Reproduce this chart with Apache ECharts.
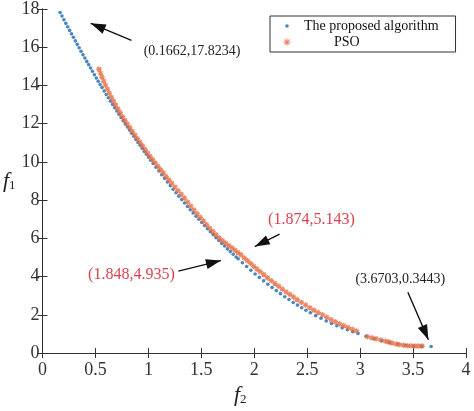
<!DOCTYPE html>
<html>
<head>
<meta charset="utf-8">
<script src="https://cdn.jsdelivr.net/npm/echarts@6/dist/echarts.min.js"></script>
<style>
  html, body { margin: 0; padding: 0; background: #fff; }
  #chart { width: 474px; height: 411px; }
</style>
</head>
<body>
<div id="chart"></div>
<script>
// Pareto fronts: [f2, f1]
const proposed = [
  [0.166,17.82],[0.184,17.63],[0.202,17.44],[0.220,17.25],[0.238,17.07],[0.256,16.88],[0.274,16.70],[0.292,16.52],
  [0.310,16.33],[0.328,16.15],[0.346,15.97],[0.364,15.79],[0.382,15.61],[0.400,15.44],[0.418,15.26],[0.436,15.09],
  [0.454,14.91],[0.472,14.74],[0.490,14.56],[0.508,14.39],[0.526,14.22],[0.544,14.05],
  [0.562,13.89],[0.582,13.71],[0.602,13.53],[0.622,13.36],[0.642,13.18],[0.662,13.01],[0.682,12.84],[0.702,12.67],
  [0.722,12.50],[0.742,12.33],[0.762,12.16],[0.782,11.99],[0.802,11.83],[0.822,11.67],[0.842,11.50],[0.862,11.34],
  [0.882,11.18],[0.902,11.02],[0.922,10.87],[0.942,10.71],[0.962,10.55],[0.982,10.40],[1.002,10.25],[1.022,10.09],
  [1.045,9.92],[1.072,9.72],[1.099,9.53],[1.126,9.33],[1.153,9.14],[1.180,8.95],[1.207,8.76],[1.234,8.57],
  [1.261,8.39],[1.288,8.21],[1.315,8.03],[1.342,7.85],[1.369,7.67],[1.396,7.50],[1.423,7.33],[1.450,7.16],
  [1.477,7.00],[1.504,6.83],[1.531,6.67],[1.558,6.51],[1.585,6.35],[1.612,6.20],[1.639,6.04],[1.666,5.89],
  [1.693,5.74],[1.720,5.60],[1.747,5.45],[1.774,5.31],[1.801,5.17],[1.828,5.03],[1.848,4.935],
  [1.888,4.73],[1.928,4.53],[1.968,4.33],[2.008,4.14],[2.048,3.96],[2.088,3.78],[2.128,3.60],[2.168,3.43],
  [2.208,3.27],[2.248,3.11],[2.288,2.95],[2.328,2.80],[2.368,2.65],[2.408,2.51],[2.448,2.37],[2.488,2.24],
  [2.530,2.11],[2.580,1.96],[2.630,1.82],[2.680,1.68],[2.730,1.55],[2.780,1.43],[2.830,1.32],[2.880,1.22],
  [2.930,1.12],[2.980,1.03],
  [3.055,0.88],[3.130,0.75],[3.205,0.64],[3.280,0.55],[3.355,0.47],[3.430,0.41],[3.505,0.37],[3.580,0.35],[3.6703,0.3443]
];
const pso = [
  [0.533,14.85],[0.548,14.64],[0.562,14.44],[0.578,14.23],[0.594,14.02],[0.612,13.81],[0.630,13.60],[0.650,13.39],
  [0.670,13.19],[0.690,12.99],[0.712,12.78],[0.734,12.58],[0.756,12.37],[0.778,12.17],[0.800,11.99],[0.824,11.80],
  [0.848,11.60],[0.872,11.41],[0.896,11.22],[0.920,11.03],[0.944,10.85],[0.968,10.66],[0.992,10.47],[1.016,10.29],
  [1.040,10.12],[1.064,9.95],[1.090,9.77],[1.116,9.59],[1.142,9.42],[1.168,9.23],[1.194,9.06],[1.220,8.89],
  [1.250,8.69],[1.280,8.50],[1.310,8.31],[1.340,8.11],[1.370,7.90],[1.400,7.69],[1.430,7.49],[1.460,7.29],
  [1.490,7.10],[1.520,6.91],[1.550,6.72],[1.580,6.53],[1.610,6.36],[1.640,6.19],[1.670,6.02],[1.700,5.88],
  [1.730,5.75],[1.760,5.62],[1.790,5.50],[1.818,5.38],[1.846,5.26],[1.874,5.143],[1.905,4.98],[1.935,4.84],
  [1.965,4.69],[1.995,4.54],[2.025,4.40],[2.055,4.26],[2.090,4.11],[2.125,3.94],[2.160,3.79],[2.195,3.64],
  [2.230,3.50],[2.265,3.35],[2.300,3.20],[2.335,3.07],[2.370,2.94],[2.405,2.80],[2.445,2.65],[2.485,2.51],
  [2.525,2.37],[2.565,2.24],[2.605,2.12],[2.645,2.00],[2.685,1.87],[2.725,1.75],[2.765,1.64],[2.805,1.53],
  [2.845,1.44],[2.885,1.34],[2.925,1.25],[2.965,1.16],[3.070,0.86],[3.110,0.80],[3.150,0.75],[3.195,0.69],
  [3.240,0.62],[3.270,0.58],[3.300,0.53],[3.340,0.47],[3.370,0.44],[3.410,0.41],[3.450,0.38],[3.480,0.38],
  [3.515,0.37],[3.550,0.37],[3.585,0.37]
];
const seriesNames = ['The proposed algorithm', 'PSO'];
const noteTexts = ['(0.1662,17.8234)', '(1.874,5.143)', '(1.848,4.935)', '(3.6703,0.3443)'];

const serif = "'Liberation Serif', 'Times New Roman', serif";
const blue = '#1a69b0';
const orange = '#e56a3e';
const red = '#d9434f';

// asterisk marker, filled bars so it can be drawn as a symbol
const star = 'path://M-5,-1.1L5,-1.1L5,1.1L-5,1.1Z M-1.1,-5L1.1,-5L1.1,5L-1.1,5Z ' +
  'M-2.82,-4.38L4.38,2.82L2.82,4.38L-4.38,-2.82Z M4.38,-2.82L-2.82,4.38L-4.38,2.82L2.82,-4.38Z';
// legend icons drawn inside a 24x8 box
const dotIcon = 'path://M0,0h0.01v0.01h-0.01z M24,8h-0.01v-0.01h0.01z M10.2,4a1.8,1.8 0 1 0 3.6,0a1.8,1.8 0 1 0 -3.6,0z';
const starIcon = 'path://M0,0h0.01v0.01h-0.01z M24,8h-0.01v-0.01h0.01z M8.4,3.5L15.6,3.5L15.6,4.5L8.4,4.5Z ' +
  'M11.5,0.4L12.5,0.4L12.5,7.6L11.5,7.6Z M9.8,1.1L14.9,6.2L14.2,6.9L9.1,1.8Z M14.9,1.8L9.8,6.9L9.1,6.2L14.2,1.1Z';
// arrow head with its tip at the symbol centre
const head = 'path://M0,-15L0.01,-15L0,-14.99Z M0,0L5,15L-5,15Z';

function arrow(from, to) {
  return [{ coord: from, symbol: 'none' }, { coord: to, symbol: head, symbolSize: [10, 30] }];
}

const axisColor = '#333';
const tickLabel = { fontFamily: serif, fontSize: 18, color: '#333' };

let option = {
  animation: false,
  grid: { left: 41, right: 8, top: 6, bottom: 43 },
  legend: {
    left: 270, top: 16,
    orient: 'vertical',
    padding: [3, 17, 3, 5],
    itemGap: 2,
    itemWidth: 24, itemHeight: 8,
    borderColor: '#333', borderWidth: 1,
    backgroundColor: '#fff',
    textStyle: { fontFamily: serif, fontSize: 14, color: '#111', rich: { p: { fontFamily: serif, fontSize: 14, color: '#111', padding: [0, 0, 0, 30] } } },
    formatter: function (name) { return name === 'PSO' ? '{p|PSO}' : name; },
    data: [
      { name: seriesNames[0], icon: dotIcon },
      { name: seriesNames[1], icon: starIcon }
    ]
  },
  xAxis: [
    {
      type: 'value', min: 0, max: 4, interval: 0.5,
      name: '{i|f}{s|2}', nameLocation: 'middle', nameGap: 17,
      nameTextStyle: {
        padding: [0, 28, 0, 0],
        rich: {
          i: { fontFamily: serif, fontStyle: 'italic', fontSize: 22, color: '#222' },
          s: { fontFamily: serif, fontSize: 13, color: '#222', verticalAlign: 'bottom', padding: [9, 0, 0, 0] }
        }
      },
      axisLine: { lineStyle: { color: axisColor } },
      axisTick: { inside: true, length: 5, lineStyle: { color: axisColor } },
      axisLabel: Object.assign({ margin: 8 }, tickLabel),
      splitLine: { show: false }
    },
    {
      type: 'value', min: 0, max: 4, interval: 0.5, position: 'top',
      axisLine: { show: true, lineStyle: { color: axisColor } },
      axisTick: { inside: true, length: 5, lineStyle: { color: axisColor } },
      axisLabel: { show: false },
      splitLine: { show: false }
    }
  ],
  yAxis: [
    {
      type: 'value', min: 0, max: 18, interval: 2,
      name: '{i|f}{s|1}', nameLocation: 'middle', nameGap: 20, nameRotate: 0,
      nameTextStyle: {
        rich: {
          i: { fontFamily: serif, fontStyle: 'italic', fontSize: 22, color: '#222' },
          s: { fontFamily: serif, fontSize: 13, color: '#222', verticalAlign: 'bottom', padding: [9, 0, 0, 0] }
        }
      },
      axisLine: { show: true, lineStyle: { color: axisColor } },
      axisTick: { inside: true, length: 5, lineStyle: { color: axisColor } },
      axisLabel: Object.assign({ margin: 3 }, tickLabel),
      splitLine: { show: false }
    },
    {
      type: 'value', min: 0, max: 18, interval: 2, position: 'right',
      axisLine: { show: true, lineStyle: { color: axisColor } },
      axisTick: { inside: true, length: 5, lineStyle: { color: axisColor } },
      axisLabel: { show: false },
      splitLine: { show: false }
    }
  ],
  series: [
    {
      name: seriesNames[0],
      type: 'scatter',
      data: proposed,
      symbol: 'circle',
      symbolSize: 3.6,
      itemStyle: { color: blue },
      markLine: {
        silent: true,
        symbol: ['none', 'none'],
        label: { show: false },
        lineStyle: { color: '#111', width: 1.4, type: 'solid' },
        data: [
          arrow([0.840, 16.36], [0.455, 17.25]),
          arrow([2.239, 6.22], [2.005, 5.57]),
          arrow([1.283, 4.29], [1.685, 4.84]),
          arrow([3.451, 3.18], [3.645, 0.70])
        ]
      },
      markPoint: {
        silent: true,
        symbol: 'circle',
        symbolSize: 0,
        label: { show: true, position: 'inside', fontFamily: serif },
        data: [
          { coord: [1.413, 15.76], label: { formatter: noteTexts[0], fontSize: 14, color: '#222' } },
          { coord: [2.54, 6.96], label: { formatter: noteTexts[1], fontSize: 16, color: red } },
          { coord: [0.84, 4.08], label: { formatter: noteTexts[2], fontSize: 16, color: red } },
          { coord: [3.38, 3.88], label: { formatter: noteTexts[3], fontSize: 14, color: '#222' } }
        ]
      }
    },
    {
      name: seriesNames[1],
      type: 'scatter',
      data: pso,
      symbol: star,
      symbolSize: 5.5,
      itemStyle: { color: orange }
    }
  ]
};

var chart = echarts.init(document.getElementById('chart'));
chart.setOption(option);
</script>
</body>
</html>
